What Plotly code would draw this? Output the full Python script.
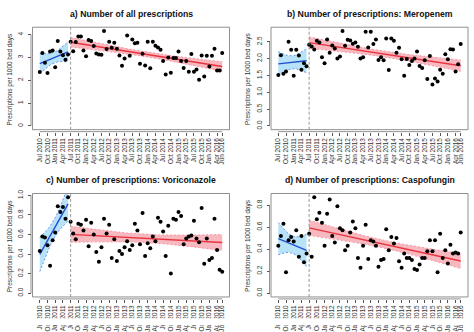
import numpy as np
import plotly.graph_objects as go

# Monthly prescriptions per 1000 bed days, Jul 2010 - Jun 2016 (72 months).
# The intervention starts in Jul 2011 (month index 12).
all_rx = [2.36, 3.20, 2.77, 2.32, 3.26, 3.30, 2.57, 3.72, 3.26, 3.10, 2.90, 3.13,
          3.69, 3.27, 3.68, 3.92, 3.92, 3.30, 3.05, 3.76, 3.72, 3.50, 3.17, 3.13,
          3.12, 4.16, 3.37, 3.69, 3.43, 3.64, 3.38, 3.09, 2.64, 2.95, 3.96, 3.08,
          3.79, 3.62, 3.64, 2.72, 3.16, 2.65, 3.69, 2.53, 3.69, 3.51, 3.44, 3.34,
          2.85, 2.25, 3.00, 2.33, 2.98, 2.98, 3.26, 2.84, 2.54, 2.84, 2.37, 3.15,
          2.37, 2.47, 2.02, 3.09, 2.16, 3.08, 2.60, 3.08, 3.38, 2.43, 2.43, 3.20]

meropenem = [1.51, 2.10, 1.55, 1.62, 2.50, 2.26, 1.49, 2.26, 2.09, 1.67, 1.86, 1.77,
             2.41, 2.36, 2.27, 2.53, 2.48, 2.04, 1.86, 2.57, 2.17, 2.39, 2.30, 2.00,
             2.06, 2.82, 2.38, 2.56, 2.54, 2.44, 2.48, 2.35, 2.00, 2.04, 2.80, 2.33,
             2.80, 2.43, 2.57, 1.96, 2.04, 1.95, 2.60, 1.66, 2.60, 2.53, 2.17, 2.32,
             1.98, 1.49, 1.99, 1.81, 1.93, 2.00, 2.21, 1.78, 1.72, 1.95, 1.39, 2.08,
             1.23, 1.41, 1.32, 1.67, 1.55, 2.13, 1.98, 2.28, 2.27, 1.62, 1.83, 2.43]

voriconazole = [0.43, 0.58, 0.57, 0.49, 0.28, 0.54, 0.62, 0.89, 0.83, 0.88, 0.76, 0.98,
                0.73, 0.61, 0.55, 0.71, 0.70, 0.64, 0.75, 0.48, 0.72, 0.60, 0.42, 0.32,
                0.47, 0.76, 0.61, 0.70, 0.36, 0.55, 0.33, 0.43, 0.40, 0.47, 0.53, 0.44,
                0.49, 0.71, 0.64, 0.50, 0.82, 0.38, 0.51, 0.46, 0.58, 0.53, 0.77, 0.73,
                0.63, 0.38, 0.69, 0.20, 0.76, 0.75, 0.83, 0.79, 0.50, 0.56, 0.58, 0.59,
                0.74, 0.56, 0.52, 0.87, 0.30, 0.56, 0.34, 0.36, 0.76, 0.44, 0.24, 0.22]

caspofungin = [0.43, 0.52, 0.63, 0.19, 0.48, 0.51, 0.47, 0.57, 0.33, 0.52, 0.28, 0.36,
               0.54, 0.33, 0.87, 0.67, 0.73, 0.64, 0.43, 0.72, 0.85, 0.52, 0.46, 0.79,
               0.59, 0.57, 0.39, 0.43, 0.55, 0.65, 0.59, 0.32, 0.23, 0.43, 0.62, 0.31,
               0.48, 0.47, 0.43, 0.24, 0.30, 0.31, 0.58, 0.39, 0.51, 0.45, 0.50, 0.29,
               0.23, 0.36, 0.32, 0.32, 0.30, 0.22, 0.21, 0.26, 0.32, 0.32, 0.38, 0.48,
               0.38, 0.48, 0.19, 0.54, 0.32, 0.39, 0.27, 0.44, 0.36, 0.37, 0.36, 0.55]

tick_months = [0, 3, 6, 9, 12, 15, 18, 21, 24, 27, 30, 33, 36, 39, 42, 45, 48,
               51, 54, 57, 60, 63, 66, 69, 71]
tick_labels = ["Jul 2010", "Oct 2010", "Jan 2011", "Apr 2011", "Jul 2011",
               "Oct 2011", "Jan 2012", "Apr 2012", "Jul 2012", "Oct 2012",
               "Jan 2013", "Apr 2013", "Jul 2013", "Oct 2013", "Jan 2014",
               "Apr 2014", "Jul 2014", "Oct 2014", "Jan 2015", "Apr 2015",
               "Jul 2015", "Oct 2015", "Jan 2016", "Apr 2016", "Jun 2016"]

panel_titles = ["a) Number of all prescriptions",
                "b) Number of prescriptions: Meropenem",
                "c) Number of prescriptions: Voriconazole",
                "d) Number of prescriptions: Caspofungin"]
panel_series = [all_rx, meropenem, voriconazole, caspofungin]
y_ticks = [[0, 1, 2, 3, 4],
           [0.0, 0.5, 1.0, 1.5, 2.0, 2.5],
           [0.0, 0.2, 0.4, 0.6, 0.8, 1.0],
           [0.0, 0.2, 0.4, 0.6, 0.8]]
y_tick_fmt = ["d", ".1f", ".1f", ".1f"]
y_title = "Prescriptions per 1000 bed days"

INTERVENTION = 12
T_CRIT = 1.995  # t quantile, 68 residual df

W, H = 474, 332
FONT = "Liberation Sans, Arial, sans-serif"
BLUE, BLUE_BAND, BLUE_EDGE = "#2150cf", "#b7e2f7", "#4d7fe6"
RED, RED_BAND, RED_EDGE = "#e8343f", "#f8b8bf", "#f08d98"

# page-pixel boxes of the four plotting regions: (left, right, top, bottom)
cols = [(32.5, 229.5), (271.0, 468.0)]
rows = [(24.0, 130.0), (196.0, 303.0)]


def px_x(v):
    return v / W


def px_y(v):
    return 1 - v / H


def segmented_fit(values):
    """Two-segment linear trend with a pooled residual variance and CI band."""
    y = np.asarray(values, float)
    t = np.arange(len(y), dtype=float)
    parts = [(t[:INTERVENTION], y[:INTERVENTION]), (t[INTERVENTION:], y[INTERVENTION:])]
    fitted, rss = [], 0.0
    for ts, ys in parts:
        slope, icpt = np.polyfit(ts, ys, 1)
        yhat = icpt + slope * ts
        rss += float(((ys - yhat) ** 2).sum())
        fitted.append((ts, yhat))
    s = np.sqrt(rss / (len(y) - 4))
    out = []
    for ts, yhat in fitted:
        d = ts - ts.mean()
        se = s * np.sqrt(1 / len(ts) + d ** 2 / (d ** 2).sum())
        out.append((ts, yhat, yhat - T_CRIT * se, yhat + T_CRIT * se))
    return out


fig = go.Figure()
shapes, annotations = [], []
layout_axes = {}

for k, values in enumerate(panel_series):
    r, c = divmod(k, 2)
    left, right = cols[c]
    top, bottom = rows[r]
    xa = "x" if k == 0 else f"x{k + 1}"
    ya = "y" if k == 0 else f"y{k + 1}"
    xkey = "xaxis" if k == 0 else f"xaxis{k + 1}"
    ykey = "yaxis" if k == 0 else f"yaxis{k + 1}"
    months = np.arange(len(values))
    ymax = max(values)

    segs = segmented_fit(values)
    styles = [(BLUE, BLUE_BAND, BLUE_EDGE), (RED, RED_BAND, RED_EDGE)]
    for (ts, yhat, lo, hi), (lc, bc, ec) in zip(segs, styles):
        fig.add_trace(go.Scatter(
            x=np.concatenate([ts, ts[::-1]]), y=np.concatenate([hi, lo[::-1]]),
            fill="toself", fillcolor=bc, line=dict(width=0), mode="lines",
            hoverinfo="skip", showlegend=False, xaxis=xa, yaxis=ya))
        for edge in (lo, hi):
            fig.add_trace(go.Scatter(
                x=ts, y=edge, mode="lines",
                line=dict(color=ec, width=0.8, dash="2px,2px"),
                showlegend=False, xaxis=xa, yaxis=ya))
        fig.add_trace(go.Scatter(
            x=ts, y=yhat, mode="lines", line=dict(color=lc, width=1.4),
            showlegend=False, xaxis=xa, yaxis=ya))

    fig.add_trace(go.Scatter(
        x=months, y=values, mode="markers",
        marker=dict(color="black", size=4, line=dict(width=0)),
        showlegend=False, xaxis=xa, yaxis=ya))

    x_pos = px_y(bottom + 2)   # x axis sits just below the box
    y_pos = px_x(left - 1.5)   # y axis sits just left of the box
    layout_axes[xkey] = dict(
        domain=[px_x(left), px_x(right)], anchor="free", position=x_pos,
        range=[-0.04 * 71, 71 * 1.04], tickmode="array", tickvals=tick_months,
        ticktext=tick_labels, tickangle=-90, ticks="outside", ticklen=3,
        tickwidth=0.8, tickcolor="#555", showgrid=False, zeroline=False,
        showline=False, ticklabelstandoff=0,
        tickfont=dict(family=FONT, size=6.4, color="#333"))
    layout_axes[ykey] = dict(
        domain=[px_y(bottom), px_y(top)], anchor="free", position=y_pos,
        range=[-0.04 * ymax, 1.04 * ymax], tickmode="array", tickvals=y_ticks[k],
        tickformat=y_tick_fmt[k], tickangle=-90, ticks="outside", ticklen=3,
        tickwidth=0.8, tickcolor="#555", showgrid=False, zeroline=False,
        showline=False, ticklabelstandoff=2,
        tickfont=dict(family=FONT, size=6.4, color="#333"))

    # plot frame
    shapes.append(dict(type="rect", xref=f"{xa} domain", yref=f"{ya} domain",
                       x0=0, x1=1, y0=0, y1=1, line=dict(color="#8f8f8f", width=1),
                       layer="above"))
    # axis lines spanning first to last tick
    shapes.append(dict(type="line", xref=xa, yref="paper", x0=0, x1=71,
                       y0=x_pos, y1=x_pos, line=dict(color="#777", width=0.8)))
    shapes.append(dict(type="line", xref="paper", yref=ya, x0=y_pos, x1=y_pos,
                       y0=y_ticks[k][0], y1=y_ticks[k][-1],
                       line=dict(color="#777", width=0.8)))
    # intervention marker
    shapes.append(dict(type="line", xref=xa, yref=f"{ya} domain",
                       x0=INTERVENTION, x1=INTERVENTION, y0=0, y1=1,
                       line=dict(color="#8c8c8c", width=0.9, dash="3px,2px"),
                       layer="above"))

    annotations.append(dict(
        text=f"<b>{panel_titles[k]}</b>", xref="paper", yref="paper",
        x=px_x((left + right) / 2), y=px_y(top - 14), xanchor="center", yanchor="middle",
        showarrow=False, font=dict(family=FONT, size=8.7, color="#111")))
    annotations.append(dict(
        text=y_title, xref="paper", yref="paper", textangle=-90,
        x=px_x(left - 22.5), y=px_y((top + bottom) / 2 + 1), xanchor="center",
        yanchor="middle", showarrow=False,
        font=dict(family=FONT, size=6.4, color="#333")))

# lower edge of the figure is trimmed
shapes.append(dict(type="rect", xref="paper", yref="paper", x0=0, x1=1,
                   y0=0, y1=px_y(325), fillcolor="white", line=dict(width=0),
                   layer="above"))

fig.update_layout(
    width=W, height=H, margin=dict(l=0, r=0, t=0, b=0),
    paper_bgcolor="white", plot_bgcolor="white",
    shapes=shapes, annotations=annotations, showlegend=False,
    **layout_axes)

fig.write_html("out.html")
